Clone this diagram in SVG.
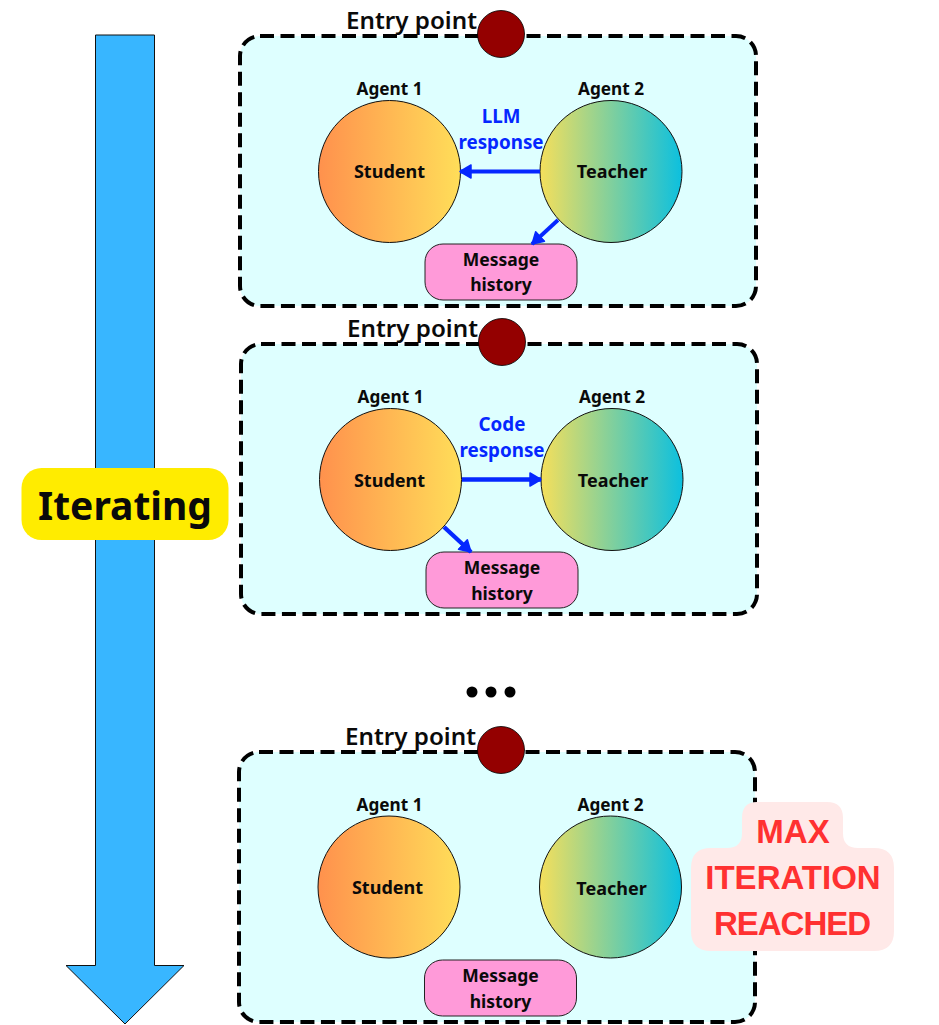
<svg xmlns="http://www.w3.org/2000/svg" width="939" height="1025" viewBox="0 0 939 1025">
<style>
text{font-family:"Noto Sans","Open Sans","Liberation Sans",sans-serif;font-weight:700;fill:#0a0a0a;text-anchor:middle}
.panel{fill:#deffff;stroke:#000;stroke-width:4;stroke-dasharray:14 6.5}
.entry{fill:#940000;stroke:#000;stroke-width:.8}
.circ{stroke:#111;stroke-width:1}
.msg{fill:#ff9ad9;stroke:#222;stroke-width:1}
.et{font-size:24.200px;font-weight:600}
.ag{font-size:17.200px}
.nm{font-size:18px}
.mt{font-size:17.500px}
.bl{font-size:18.800px;fill:#0527ff}
.c{stroke:#0527ff;stroke-width:3.800;fill:none}
.t{stroke-width:4.400}
.r{font-size:33px;fill:#ff3131;font-family:"Liberation Sans","Noto Sans",sans-serif;font-weight:700}
</style>
<defs>
<linearGradient id="gs"><stop offset="0" stop-color="#ff914d"/><stop offset="1" stop-color="#ffde59"/></linearGradient>
<linearGradient id="gt"><stop offset="0" stop-color="#f5df5b"/><stop offset="1" stop-color="#0cc0df"/></linearGradient>
<marker id="ah" markerUnits="userSpaceOnUse" markerWidth="14" markerHeight="18" refX="12" refY="9" orient="auto"><path d="M1 2.500L12 9L1 15.500Z" fill="#0527ff" stroke="#0527ff" stroke-width="1.500" stroke-linejoin="round"/></marker>
</defs>
<g id="iterate-arrow"><path d="M95.500 35H154.500V965.500H184L125 1024L66 965.500H95.500Z" fill="#38b6ff" stroke="#111" stroke-width="1"/></g>
<g id="iterating"><rect x="21.500" y="468" width="207" height="72" rx="20" fill="#ffec00"/><text x="125" y="520" style="font-size:39px">Iterating</text></g>

<g id="panel1"><rect class="panel" x="240" y="36" width="516" height="270" rx="20"/></g>
<g id="entry1"><circle class="entry" cx="501" cy="34" r="23.500"/><text class="et" x="411.500" y="29">Entry point</text></g>
<g id="student1"><circle class="circ" cx="389.500" cy="171.500" r="71" fill="url(#gs)"/><text class="ag" x="389.500" y="95">Agent 1</text><text class="nm" x="389.500" y="177.500">Student</text></g>
<g id="teacher1"><circle class="circ" cx="611" cy="171.500" r="71" fill="url(#gt)"/><text class="ag" x="611" y="95">Agent 2</text><text class="nm" x="612" y="177.500">Teacher</text></g>
<g id="message1"><rect class="msg" x="425" y="244" width="152" height="56" rx="18"/><text class="mt" x="501" y="266">Message</text><text class="mt" x="501" y="291">history</text></g>

<g id="panel2"><rect class="panel" x="241" y="344" width="516" height="270" rx="20"/></g>
<g id="entry2"><circle class="entry" cx="502" cy="342" r="23.500"/><text class="et" x="412.500" y="337">Entry point</text></g>
<g id="student2"><circle class="circ" cx="390.500" cy="479.500" r="71" fill="url(#gs)"/><text class="ag" x="390.500" y="403">Agent 1</text><text class="nm" x="389.500" y="486.500">Student</text></g>
<g id="teacher2"><circle class="circ" cx="612" cy="479.500" r="71" fill="url(#gt)"/><text class="ag" x="612" y="403">Agent 2</text><text class="nm" x="613" y="486.500">Teacher</text></g>
<g id="message2"><rect class="msg" x="426" y="552" width="152" height="56" rx="18"/><text class="mt" x="502" y="574">Message</text><text class="mt" x="502" y="600">history</text></g>

<g id="dots"><circle cx="472" cy="692" r="5.500"/><circle cx="491" cy="692" r="5.500"/><circle cx="510" cy="692" r="5.500"/></g>

<g id="panel3"><rect class="panel" x="239" y="752" width="516" height="270" rx="20"/></g>
<g id="entry3"><circle class="entry" cx="501" cy="750" r="23.500"/><text class="et" x="410.500" y="745">Entry point</text></g>
<g id="student3"><circle class="circ" cx="389" cy="887" r="71" fill="url(#gs)"/><text class="ag" x="389.500" y="811">Agent 1</text><text class="nm" x="387.500" y="894">Student</text></g>
<g id="teacher3"><circle class="circ" cx="610.500" cy="887" r="71" fill="url(#gt)"/><text class="ag" x="610.500" y="811">Agent 2</text><text class="nm" x="611.500" y="895">Teacher</text></g>
<g id="message3"><rect class="msg" x="424.500" y="960" width="152" height="56" rx="18"/><text class="mt" x="500.500" y="982">Message</text><text class="mt" x="500.500" y="1008">history</text></g>

<g id="max-iteration"><path d="M757 802H827Q843 802 843 818V833Q843 848 858 848H874Q894 848 894 868V931Q894 951 874 951H711Q691 951 691 931V868Q691 848 711 848H727Q742 848 742 833V818Q742 802 757 802Z" fill="#ffe9e8"/><text class="r" x="793" y="843">MAX</text><text class="r" x="793" y="889">ITERATION</text><text class="r" x="792.500" y="935" textLength="157">REACHED</text></g>

<g id="connectors">
<line class="c" x1="540" y1="171.500" x2="460" y2="171.500" marker-end="url(#ah)"/>
<line class="c" x1="558" y1="220" x2="532" y2="244" marker-end="url(#ah)"/>
<line class="c t" x1="462" y1="479.500" x2="541" y2="479.500" marker-end="url(#ah)"/>
<line class="c t" x1="444" y1="527" x2="471" y2="552" marker-end="url(#ah)"/>
<text class="bl" x="501" y="123">LLM</text><text class="bl" x="501" y="149">response</text>
<text class="bl" x="502" y="431">Code</text><text class="bl" x="502" y="457">response</text>
</g>
</svg>
